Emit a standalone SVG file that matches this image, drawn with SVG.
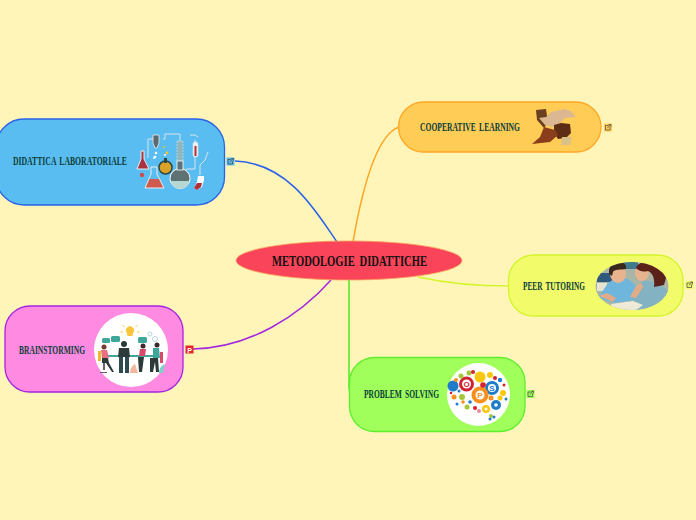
<svg xmlns="http://www.w3.org/2000/svg" width="696" height="520" viewBox="0 0 696 520">
<style>
.lbl{font-family:"Liberation Serif",serif;font-weight:bold;font-size:11.500px;word-spacing:2px;fill:#0b3d3a}
.conn{fill:none;stroke-width:1.500}
.box{stroke-width:1.300}
.ext{fill:none;stroke:#444;stroke-width:.7}
.gear{font-family:"Liberation Sans",sans-serif;font-weight:bold;font-size:8px;text-anchor:middle}
</style>
<rect width="696" height="520" fill="#fff5b8"/>
<g id="connectors">
<path class="conn" d="M337 242C318 215 290 163 235 161" stroke="#2a62e8"/>
<path class="conn" d="M353 242C362 190 376 135 399 127" stroke="#ffa726"/>
<path class="conn" d="M418 277C450 284 480 286 509 286" stroke="#d4f52a"/>
<path class="conn" d="M349 280V385Q349 392 351 396" stroke="#4fe81f"/>
<path class="conn" d="M331 280C300 315 250 348 193 349" stroke="#a526e0"/>
</g>
<g id="node-center">
<ellipse cx="349" cy="260.500" rx="113" ry="19.500" fill="#f9445a" stroke="#f7a35c" stroke-width=".8"/>
<text x="272" y="265.500" textLength="155" lengthAdjust="spacingAndGlyphs" style="font-family:'Liberation Serif',serif;font-weight:bold;font-size:15px;word-spacing:3px;fill:#111">METODOLOGIE DIDATTICHE</text>
</g>
<g id="node-laboratoriale">
<rect class="box" x="-4" y="119" width="228.500" height="86" rx="28" fill="#5abdf2" stroke="#2a62e8"/>
<text class="lbl" x="13" y="165" textLength="114" lengthAdjust="spacingAndGlyphs">DIDATTICA LABORATORIALE</text>
<g fill="none" stroke="#d8e4e8" stroke-width="1">
<path d="M148 158V139H154M163 139H165V134H180V162M186 169H195V140M208 152L205 160L200 165V175"/>
<path d="M190 135h5l3 2"/>
</g>
<path d="M177 141h6v22h-6z" fill="#8fb7bd" stroke="#d8e4e8" stroke-width=".6" stroke-dasharray="2 1"/>
<path d="M153 135h6v8l-2 5h-2l-2-5z" fill="#5e6a6c" stroke="#e8eef0" stroke-width=".8"/>
<circle cx="156" cy="153" r="1.300" fill="#fff"/><circle cx="155" cy="157" r="1.300" fill="#fff"/><circle cx="154" cy="158" r="1" fill="#fff"/>
<circle cx="164" cy="147" r="1" fill="#f3c623"/><circle cx="167" cy="153" r="1.400" fill="#f3c623"/><circle cx="165" cy="155" r="1" fill="#fff"/>
<path d="M141 151h3v8l5 10h-12l4-10z" fill="#a8333e" stroke="#e8eef0" stroke-width="1"/>
<circle cx="142" cy="175" r="2.200" fill="#c9504f"/>
<path d="M151 167h6v7l7 14h-19l6-14z" fill="#d05a4e"/>
<path d="M151 167h6v7l2 5h-10l2-5z" fill="#5abdf2"/>
<path d="M151 167h6v7l7 14h-19l6-14z" fill="none" stroke="#e8eef0" stroke-width="1"/>
<circle cx="165.500" cy="167.500" r="6.500" fill="#d8a326" stroke="#2f4648" stroke-width="1.500"/>
<rect x="164" y="158" width="3" height="5" fill="#2f4648"/>
<circle cx="180" cy="178.500" r="10" fill="#5e7274" stroke="#fff" stroke-width="1"/>
<path d="M170.500 181h19a9.700 9.700 0 0 1-19 0z" fill="#b6d8d2"/>
<rect x="177" y="161" width="6" height="9" fill="#5e7274" stroke="#fff" stroke-width=".8"/>
<rect x="193" y="142" width="5" height="15" rx="2" fill="#f0f0f0" stroke="#d8e4e8" stroke-width=".6"/><rect x="194.500" y="146" width="2" height="10" fill="#b03038"/>
<path d="M198 176h6v4l-2 7l-5 3l-3-2l3-6z" fill="#fff"/><path d="M194 188l3-5h5l-1 4l-4 3z" fill="#b03038"/>
</g>
<g id="node-cooperative">
<rect class="box" x="398.500" y="102" width="202.500" height="50" rx="25" fill="#ffcc55" stroke="#ffa726"/>
<text class="lbl" x="420" y="131" textLength="100" lengthAdjust="spacingAndGlyphs">COOPERATIVE LEARNING</text>
<path d="M537 120L536 110l10-1 2 13-4 6z" fill="#6b4020"/>
<path d="M539 118l7-1 5-5 13-3 7 2 5 6-11 1-7 7-6 2-7-2z" fill="#dcb892"/>
<path d="M554 125l7-2 9 1 1 9-5 5-8 1-4-6z" fill="#5e2d16"/>
<path d="M562 137h10l-2 8h-9z" fill="#d9c28a"/>
<path d="M544 127l11 3 3 5-8 7-18 2 8-7z" fill="#8a3e1c"/>
</g>
<g id="node-peer">
<rect class="box" x="508.500" y="255" width="174.500" height="61" rx="25" fill="#f2fb6a" stroke="#d4f52a"/>
<text class="lbl" x="523" y="289.500" textLength="62" lengthAdjust="spacingAndGlyphs">PEER TUTORING</text>
<clipPath id="peerclip"><ellipse cx="632" cy="286" rx="36.500" ry="24"/></clipPath>
<g clip-path="url(#peerclip)">
<rect x="595" y="262" width="74" height="48" fill="#a9b5a6"/>
<rect x="597" y="273" width="16" height="9" fill="#30597e"/>
<rect x="622" y="262" width="16" height="7" fill="#3f7a8c"/>
<rect x="597" y="283" width="10" height="8" fill="#e8e4d4"/>
<path d="M598 298l10-15 6-4h14l10 8-4 13-20 3z" fill="#6fb6dc"/>
<path d="M634 292l10-12 14 3 11 8v19h-35z" fill="#83b3c2"/>
<ellipse cx="618" cy="274" rx="8" ry="9" fill="#e8b48f"/>
<path d="M609 274c-1-9 5-12 10-12s8 3 7 7c-5 1-12 0-13 3l-1 4z" fill="#3b281c"/>
<ellipse cx="642" cy="273" rx="7" ry="8" fill="#e8b48f"/>
<path d="M636 268c2-6 10-7 16-5 7 3 12 10 14 15l-2 7-10 2c1-8-1-14-6-16-4 1-8 1-12-3z" fill="#5a2118"/>
<path d="M611 304l22-3 10 4-8 6h-22z" fill="#efe9d8"/>
<path d="M599 296l14 6 3-4-9-5z" fill="#e3ab85"/>
<path d="M630 297l6-11 5-3 2 4-7 11z" fill="#e3ab85"/>
</g>
</g>
<g id="node-problem">
<rect class="box" x="349.500" y="357.500" width="175.500" height="74" rx="25" fill="#a0ff5a" stroke="#5fee2f"/>
<text class="lbl" x="364" y="397.500" textLength="75" lengthAdjust="spacingAndGlyphs">PROBLEM SOLVING</text>
<circle cx="478.500" cy="394.500" r="31.500" fill="#fff"/>
<circle cx="453" cy="386" r="5.500" fill="#1e7cc8"/>
<circle cx="466.500" cy="384" r="7.500" fill="#d3222f"/><circle cx="466.500" cy="384" r="4.500" fill="#fff"/>
<circle cx="480" cy="377" r="5.500" fill="#f9c80e"/>
<circle cx="492" cy="388" r="7" fill="#1e7cc8"/><circle cx="492" cy="388" r="4" fill="#fff"/>
<circle cx="480" cy="395" r="8.500" fill="#f7901e"/><circle cx="480" cy="395" r="4.500" fill="#fff"/>
<circle cx="496" cy="405" r="5" fill="#1e7cc8"/><circle cx="496" cy="405" r="1.800" fill="#fff"/>
<circle cx="486" cy="409" r="4" fill="#f9c80e"/><circle cx="486" cy="409" r="1.500" fill="#fff"/>
<circle cx="462" cy="397" r="3" fill="#a4c639"/><circle cx="454" cy="397" r="2.500" fill="#f7901e"/><circle cx="459" cy="391" r="1.500" fill="#1e7cc8"/><circle cx="451" cy="393" r="1.300" fill="#d3222f"/>
<circle cx="467" cy="407" r="2.500" fill="#a4c639"/><circle cx="475" cy="408" r="2" fill="#d3222f"/><circle cx="463" cy="402" r="1.800" fill="#f7901e"/><circle cx="470" cy="402" r="1.800" fill="#1e7cc8"/>
<circle cx="457" cy="404" r="1.500" fill="#1e7cc8"/><circle cx="479" cy="411" r="2" fill="#e58ca0"/><circle cx="491" cy="398" r="2.500" fill="#f7901e"/>
<circle cx="461" cy="376" r="2.500" fill="#a4c639"/><circle cx="469" cy="373" r="2.500" fill="#a4c639"/><circle cx="473" cy="372" r="2" fill="#d3222f"/><circle cx="456" cy="380" r="2" fill="#f7901e"/>
<circle cx="490" cy="375" r="3" fill="#f9c80e"/><circle cx="495" cy="378" r="2" fill="#d3222f"/><circle cx="503" cy="393" r="3" fill="#f9c80e"/><circle cx="500" cy="380" r="2.200" fill="#1e7cc8"/><circle cx="504" cy="385" r="1.500" fill="#d3222f"/><circle cx="506" cy="399" r="1.500" fill="#1e7cc8"/>
<circle cx="483" cy="385" r="2.800" fill="#d3222f"/><circle cx="500" cy="398" r="2.500" fill="#f9c80e"/><circle cx="491" cy="416" r="2" fill="#a4c639"/><circle cx="490" cy="419" r="1.500" fill="#1e7cc8"/><circle cx="494" cy="417" r="1.500" fill="#1e7cc8"/>
<text class="gear" x="466.500" y="387" fill="#d3222f">O</text>
<text class="gear" x="480" y="398" fill="#f7901e">P</text>
<text class="gear" x="492" y="391" fill="#1e7cc8">S</text>
</g>
<g id="node-brainstorming">
<rect class="box" x="5" y="306" width="178" height="86" rx="25" fill="#ff8ae2" stroke="#a526e0"/>
<text class="lbl" x="19" y="353.500" textLength="66" lengthAdjust="spacingAndGlyphs">BRAINSTORMING</text>
<circle cx="131" cy="350" r="37" fill="#fff"/>
<path d="M127 333a4 4 0 1 1 6 0l-.5 3h-5z" fill="#f8c53a"/>
<path d="M130 329v-3M124.500 327l-2-2M135.500 327l2-2M123 332h-2.500M137 332h2.500" stroke="#f8c53a" stroke-width="1"/>
<rect x="102" y="338" width="8" height="5" rx="1.500" fill="#3fa69a"/><rect x="111" y="336" width="9" height="6" rx="1.500" fill="#3fa69a"/><rect x="138" y="337" width="9" height="6" rx="1.500" fill="#3fa69a"/>
<circle cx="150" cy="334" r="2" fill="none" stroke="#b7d8d8"/><circle cx="155" cy="339" r="2.500" fill="none" stroke="#b7d8d8"/>
<rect x="108" y="355" width="46" height="2" fill="#3fa69a"/>
<circle cx="104" cy="347" r="2.500" fill="#7a3a2e"/><path d="M101 350h6l2 8h-7z" fill="#e86f80"/><path d="M102 358h6l1 5 5 9h-2l-6-9h-4z" fill="#2d3a3a"/><rect x="98" y="351" width="3" height="10" fill="#f0b830"/><path d="M103 363h2v7h-2zM100 372h7v1h-7z" fill="#666"/>
<circle cx="124" cy="344" r="3" fill="#2d3a3a"/><path d="M119 348h10l1 9h-12z" fill="#2d3a3a"/><path d="M119 357h4v16h-4zM125 357h4v16h-4z" fill="#2d4a50"/>
<circle cx="143" cy="346" r="2.500" fill="#3a2a2a"/><path d="M140 349h6l-1 7h-6z" fill="#d9476b"/><path d="M138 357h6l-2 15h-3z" fill="#2d3a3a"/>
<circle cx="157" cy="345" r="2.500" fill="#3a2a2a"/><path d="M153 348h6l1 10h-7z" fill="#3fa69a"/><path d="M150 358h8l1 14h-3l-1-10-2 10h-3z" fill="#2d3a3a"/><rect x="160" y="352" width="3" height="11" fill="#d9476b"/>
<path d="M130 373c0-5 3-8 5-9l3 9z" fill="#f3b79d"/><path d="M159 373c0-5 3-8 6-9l-2 9z" fill="#7fcfc4"/>
</g>
<g id="icons">
<g><rect x="226.500" y="157.500" width="8" height="8" fill="#5abdf2"/><path class="ext" d="M231 159.500h-3v4.500h4.500v-3M230 162l3-3.500M231 158.500h2.500v2.500"/></g>
<g><rect x="604" y="123.500" width="8" height="8" fill="#ffcc55"/><path class="ext" d="M608.500 125.500h-3v4.500h4.500v-3M607.500 128l3-3.500M608.500 124.500h2.500v2.500"/></g>
<g><rect x="685.500" y="281" width="8" height="8" fill="#f2fb6a"/><path class="ext" d="M690 283h-3v4.500h4.500v-3M689 285.500l3-3.500M690 282h2.500v2.500"/></g>
<g><rect x="526.500" y="390" width="8" height="8" fill="#a0ff5a"/><path class="ext" d="M531 392h-3v4.500h4.500v-3M530 394.500l3-3.500M531 391h2.500v2.500"/></g>
<g><rect x="185.500" y="345.500" width="8" height="8" fill="#e5282a"/><text x="189.500" y="352.500" text-anchor="middle" style="font-family:'Liberation Sans',sans-serif;font-weight:bold;font-size:7px;fill:#fff">P</text></g>
</g>
</svg>
